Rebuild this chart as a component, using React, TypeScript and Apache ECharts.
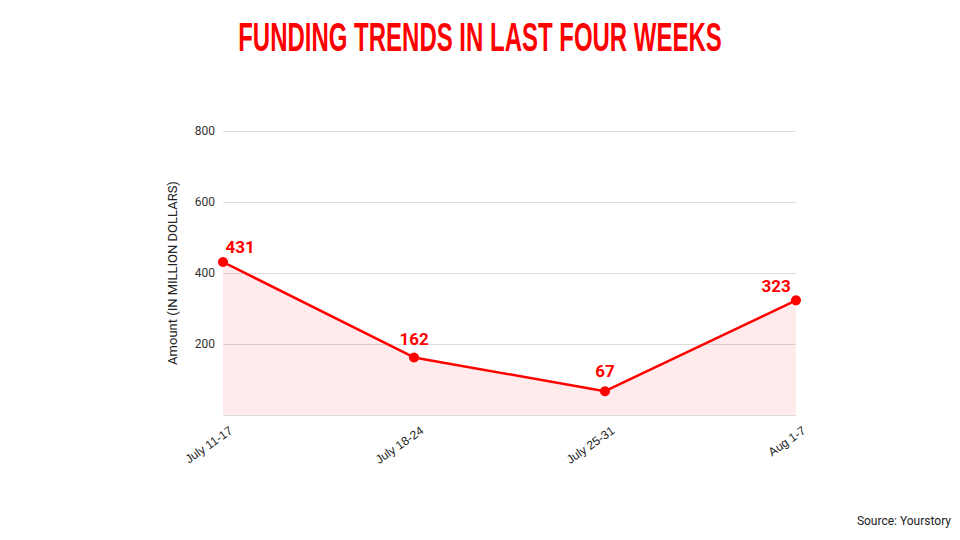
import React, { useEffect, useRef } from "react";
import * as echarts from "echarts";

const weeks = ["July 11-17", "July 18-24", "July 25-31", "Aug 1-7"];
const amounts = [431, 162, 67, 323];
const labelOffsets = [[17, 4], [0, 0], [0, -2], [-20, 4]];

const RED = "#ff0000";

const App: React.FC = () => {
  const chartRef = useRef<HTMLDivElement>(null);

  useEffect(() => {
    if (!chartRef.current) return;
    document.body.style.margin = "0";
    const chart = echarts.init(chartRef.current, null, { renderer: "svg" });

    chart.setOption({
      animation: false,
      graphic: [
        {
          type: "text",
          x: 480,
          y: 37,
          scaleX: 0.585,
          style: {
            text: "FUNDING TRENDS IN LAST FOUR WEEKS",
            font: "bold 41px 'Liberation Sans', Arial, sans-serif",
            fill: RED,
            textAlign: "center",
            textVerticalAlign: "middle",
          },
        },
        {
          type: "text",
          right: 9,
          top: 515,
          style: {
            text: "Source: Yourstory",
            font: "12px Roboto",
            fill: "#222",
          },
        },
      ],
      grid: { left: 223, right: 164, top: 131, bottom: 125 },
      xAxis: {
        type: "category",
        data: weeks,
        boundaryGap: false,
        axisLine: { show: false },
        axisTick: { show: false },
        axisLabel: {
          rotate: 35,
          fontFamily: "'Liberation Sans', Arial",
          fontSize: 12,
          color: "#222",
          margin: 20,
          padding: [0, -10, 0, 0],
        },
      },
      yAxis: {
        type: "value",
        min: 0,
        max: 800,
        interval: 200,
        name: "Amount (IN MILLION DOLLARS)",
        nameLocation: "middle",
        nameGap: 44,
        nameTextStyle: { fontFamily: "Roboto", fontSize: 13, color: "#222" },
        axisLine: { show: false },
        axisTick: { show: false },
        axisLabel: {
          showMinLabel: false,
          fontFamily: "Roboto",
          fontSize: 12,
          color: "#333",
          margin: 8,
        },
        splitLine: { lineStyle: { color: "#dddddd", width: 1 } },
      },
      series: [
        {
          type: "line",
          data: amounts.map((v, i) => ({
            value: v,
            label: { offset: labelOffsets[i] },
          })),
          symbol: "circle",
          symbolSize: 10,
          lineStyle: { color: RED, width: 2.5 },
          itemStyle: { color: RED },
          areaStyle: { color: "rgba(255,0,0,0.11)" },
          label: {
            show: true,
            position: "top",
            distance: 5,
            color: RED,
            fontFamily: "Roboto",
            fontWeight: "bold",
            fontSize: 17,
          },
        },
      ],
    });

    return () => chart.dispose();
  }, []);

  return <div ref={chartRef} style={{ width: 960, height: 540 }} />;
};

export default App;
